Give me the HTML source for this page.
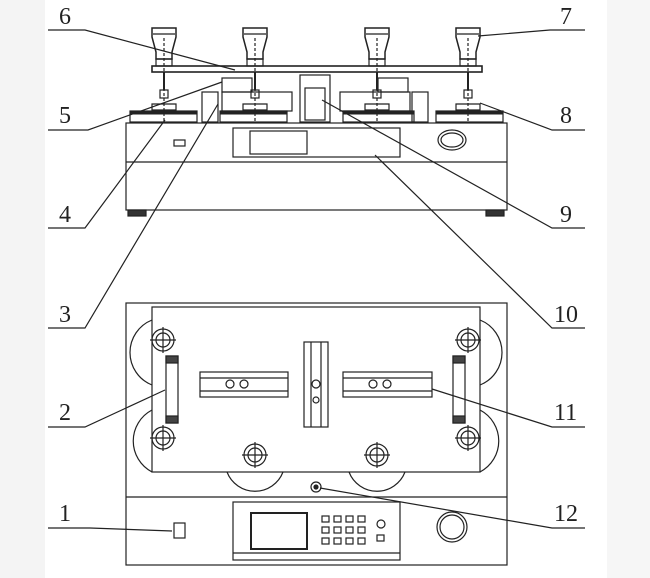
<!DOCTYPE html>
<html><head><meta charset="utf-8"><style>
html,body{margin:0;padding:0;background:#fff;}
svg{display:block;}
text{font-family:"Liberation Serif",serif;font-size:24px;fill:#222;}
</style></head><body>
<svg width="650" height="578" viewBox="0 0 650 578" xmlns="http://www.w3.org/2000/svg">
<rect x="0" y="0" width="45" height="578" fill="#f4f4f4"/>
<rect x="607" y="0" width="43" height="578" fill="#f6f6f6"/>
<g fill="none" stroke="#222" stroke-width="1.2">
<!-- Top machine -->
<rect x="126" y="123" width="381" height="87"/>
<line x1="126" y1="162" x2="507" y2="162"/>
<rect x="128" y="210" width="18" height="6" fill="#333"/>
<rect x="486" y="210" width="18" height="6" fill="#333"/>
<rect x="233" y="128" width="167" height="29"/>
<rect x="250" y="131" width="57" height="23"/>
<rect x="174" y="140" width="11" height="6"/>
<ellipse cx="452" cy="140" rx="14" ry="10"/>
<ellipse cx="452" cy="140" rx="11" ry="7"/>
<!-- plates -->
<rect x="130" y="111" width="67" height="11"/>
<rect x="220" y="111" width="67" height="11"/>
<rect x="343" y="111" width="71" height="11"/>
<rect x="436" y="111" width="67" height="11"/>
<line x1="130" y1="113" x2="197" y2="113" stroke-width="3"/>
<line x1="220" y1="113" x2="287" y2="113" stroke-width="3"/>
<line x1="343" y1="113" x2="414" y2="113" stroke-width="3"/>
<line x1="436" y1="113" x2="503" y2="113" stroke-width="3"/>
<!-- beam -->
<rect x="152" y="66" width="330" height="6" stroke-width="1.6"/>
<rect x="300" y="75" width="30" height="47"/>
<rect x="305" y="88" width="20" height="32"/>
<rect x="202" y="92" width="16" height="30"/>
<rect x="412" y="92" width="16" height="30"/>
<rect x="222" y="78" width="30" height="14"/>
<rect x="378" y="78" width="30" height="14"/>
<rect x="222" y="92" width="70" height="19"/>
<rect x="340" y="92" width="70" height="19"/>
<!-- spindles & knobs -->
<g id="k">
<path d="M152 28 h24 v9 l-4 15 v7 h-16 v-7 l-4 -15 z" stroke-width="1.5"/>
<line x1="153" y1="34" x2="175" y2="34"/>
<rect x="156" y="59" width="16" height="7"/>
<line x1="164" y1="72" x2="164" y2="90" stroke-width="2"/>
<rect x="160" y="90" width="8" height="8"/>
<path d="M152 104 h24 v6 h-24 z"/>
<line x1="164" y1="38" x2="164" y2="122" stroke-dasharray="3 2"/>
</g>
<use href="#k" x="91"/>
<use href="#k" x="213"/>
<use href="#k" x="304"/>
<!-- Bottom machine -->
<rect x="126" y="303" width="381" height="262"/>
<line x1="126" y1="497" x2="507" y2="497"/>
<path d="M152 320 A35 35 0 0 0 152 385"/>
<path d="M152 410 A35 35 0 0 0 152 472"/>
<path d="M480 320 A35 35 0 0 1 480 385"/>
<path d="M480 410 A35 35 0 0 1 480 472"/>
<path d="M227 472 A30 30 0 0 0 283 472"/>
<path d="M349 472 A30 30 0 0 0 405 472"/>
<rect x="152" y="307" width="328" height="165" fill="#fff"/>
<g id="c"><circle cx="163" cy="340" r="11"/><circle cx="163" cy="340" r="7"/><line x1="150" y1="340" x2="176" y2="340"/><line x1="163" y1="327" x2="163" y2="353"/></g>
<use href="#c" x="305"/>
<use href="#c" y="98"/>
<use href="#c" x="305" y="98"/>
<use href="#c" x="92" y="115"/>
<use href="#c" x="214" y="115"/>
<rect x="166" y="356" width="12" height="67"/>
<rect x="453" y="356" width="12" height="67"/>
<rect x="166" y="356" width="12" height="7" fill="#444"/>
<rect x="166" y="416" width="12" height="7" fill="#444"/>
<rect x="453" y="356" width="12" height="7" fill="#444"/>
<rect x="453" y="416" width="12" height="7" fill="#444"/>
<rect x="200" y="372" width="88" height="25"/>
<line x1="200" y1="378" x2="288" y2="378"/><line x1="200" y1="391" x2="288" y2="391"/>
<rect x="343" y="372" width="89" height="25"/>
<line x1="343" y1="378" x2="432" y2="378"/><line x1="343" y1="391" x2="432" y2="391"/>
<rect x="304" y="342" width="24" height="85"/>
<line x1="311" y1="342" x2="311" y2="427"/><line x1="321" y1="342" x2="321" y2="427"/>
<circle cx="230" cy="384" r="4"/><circle cx="244" cy="384" r="4"/>
<circle cx="373" cy="384" r="4"/><circle cx="387" cy="384" r="4"/>
<circle cx="316" cy="384" r="4"/><circle cx="316" cy="400" r="3"/>
<circle cx="316" cy="487" r="5"/><circle cx="316" cy="487" r="2" fill="#222"/>
<rect x="233" y="502" width="167" height="58"/>
<rect x="251" y="513" width="56" height="36" stroke-width="2"/>
<line x1="233" y1="553" x2="400" y2="553"/>
<g id="kb"><rect x="322" y="516" width="7" height="6"/><rect x="334" y="516" width="7" height="6"/><rect x="346" y="516" width="7" height="6"/><rect x="358" y="516" width="7" height="6"/></g>
<use href="#kb" y="11"/><use href="#kb" y="22"/>
<circle cx="381" cy="524" r="4"/><rect x="377" y="535" width="7" height="6"/>
<circle cx="452" cy="527" r="15"/><circle cx="452" cy="527" r="12"/>
<rect x="174" y="523" width="11" height="15"/>
<!-- leaders -->
<polyline points="48,30 85,30 235,70"/>
<polyline points="48,130 88,130 222,82"/>
<polyline points="48,228 85,228 165,120"/>
<polyline points="48,328 85,328 218,104"/>
<polyline points="48,427 85,427 165,390"/>
<polyline points="48,528 90,528 172,531"/>
<polyline points="585,30 550,30 478,36"/>
<polyline points="585,130 552,130 480,103"/>
<polyline points="585,228 552,228 322,100"/>
<polyline points="585,328 552,328 375,155"/>
<polyline points="585,427 552,427 432,389"/>
<polyline points="585,528 552,528 320,488"/>
</g>
<text x="59" y="24">6</text>
<text x="59" y="123">5</text>
<text x="59" y="222">4</text>
<text x="59" y="322">3</text>
<text x="59" y="420">2</text>
<text x="59" y="521">1</text>
<text x="560" y="24">7</text>
<text x="560" y="123">8</text>
<text x="560" y="222">9</text>
<text x="554" y="322">10</text>
<text x="554" y="420">11</text>
<text x="554" y="521">12</text>
</svg>
</body></html>
